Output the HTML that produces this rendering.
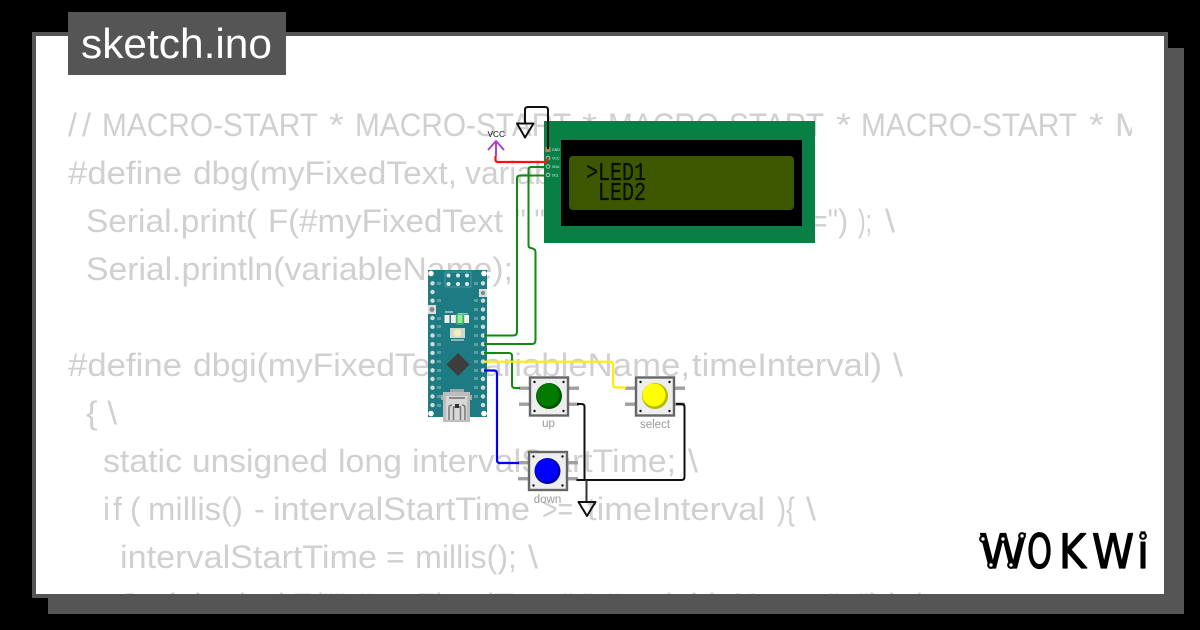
<!DOCTYPE html>
<html><head><meta charset="utf-8"><style>
html,body{margin:0;padding:0;background:#000;width:1200px;height:630px;overflow:hidden}
svg{display:block}
.c{font-family:"Liberation Sans",sans-serif;font-size:32px;fill:#d0d0d0}
.p{font-family:"Liberation Sans",sans-serif;font-size:3.6px;fill:#cfe}
.l{font-family:"Liberation Sans",sans-serif;font-size:11.5px;fill:#999;text-anchor:middle}
.lcd{font-family:"Liberation Mono",monospace;font-size:20px;fill:#0a0f00;stroke:#0a0f00;stroke-width:.25}
.w{font-family:"DejaVu Sans",sans-serif;font-size:47px;fill:#000;stroke:#000;stroke-width:1.3;stroke-linejoin:round}
</style></head><body>
<svg width="1200" height="630" viewBox="0 0 1200 630" xmlns="http://www.w3.org/2000/svg">
<defs>
<clipPath id="cl"><rect x="68" y="90" width="1064" height="504"/></clipPath>
<g id="btn">
 <g fill="#a0a0a0"><rect x="-30" y="-10" width="10" height="3.4"/><rect x="20" y="-10" width="10" height="3.4"/><rect x="-30" y="6" width="10" height="3.4"/><rect x="20" y="6" width="10" height="3.4"/></g>
 <rect x="-19" y="-19" width="38" height="38" fill="#eee" stroke="#666" stroke-width="2.4"/>
 <g fill="#111"><circle cx="-14.500" cy="-14.500" r="1.200"/><circle cx="14.500" cy="-14.500" r="1.200"/><circle cx="-14.500" cy="14.500" r="1.200"/><circle cx="14.500" cy="14.500" r="1.200"/></g>
</g>
</defs>
<rect width="1200" height="630" fill="#000"/>
<rect x="48" y="48" width="1136" height="566" fill="#555"/>
<rect x="34" y="34" width="1132" height="562" fill="#fff" stroke="#555" stroke-width="4"/>
<rect x="68" y="12" width="218" height="63" fill="#555"/>
<text x="81" y="58" font-family="Liberation Sans,sans-serif" font-size="42" fill="#fff" textLength="191" lengthAdjust="spacingAndGlyphs">sketch.ino</text>

<g class="c" clip-path="url(#cl)">
<g>
<text x="68" y="136">/</text>
<text x="82" y="136">/</text>
<text x="102" y="136" textLength="216" lengthAdjust="spacingAndGlyphs">MACRO-START</text>
<text x="329" y="136" textLength="15" lengthAdjust="spacingAndGlyphs">*</text>
<text x="355" y="136" textLength="216" lengthAdjust="spacingAndGlyphs">MACRO-START</text>
<text x="582" y="136" textLength="15" lengthAdjust="spacingAndGlyphs">*</text>
<text x="608" y="136" textLength="216" lengthAdjust="spacingAndGlyphs">MACRO-START</text>
<text x="836" y="136" textLength="15" lengthAdjust="spacingAndGlyphs">*</text>
<text x="861" y="136" textLength="216" lengthAdjust="spacingAndGlyphs">MACRO-START</text>
<text x="1089" y="136" textLength="15" lengthAdjust="spacingAndGlyphs">*</text>
<text x="1115" y="136" textLength="29" lengthAdjust="spacingAndGlyphs">M</text>
</g>
<text x="68" y="184" textLength="114" lengthAdjust="spacingAndGlyphs">#define</text>
<text x="193" y="184" textLength="264" lengthAdjust="spacingAndGlyphs">dbg(myFixedText,</text>
<text x="465" y="184" textLength="225" lengthAdjust="spacingAndGlyphs">variableName) \</text>
<text x="86" y="232" textLength="171" lengthAdjust="spacingAndGlyphs">Serial.print(</text>
<text x="268" y="232" textLength="235" lengthAdjust="spacingAndGlyphs">F(#myFixedText</text>
<text x="515" y="232" textLength="30" lengthAdjust="spacingAndGlyphs">" "</text>
<text x="600" y="232" textLength="248" lengthAdjust="spacingAndGlyphs">#variableName"=")</text>
<text x="858" y="232" textLength="14" lengthAdjust="spacingAndGlyphs">);</text>
<text x="885" y="232" textLength="10" lengthAdjust="spacingAndGlyphs">\</text>
<text x="86" y="280" textLength="427" lengthAdjust="spacingAndGlyphs">Serial.println(variableName);</text>
<text x="68" y="376" textLength="114" lengthAdjust="spacingAndGlyphs">#define</text>
<text x="193" y="376" textLength="273" lengthAdjust="spacingAndGlyphs">dbgi(myFixedText,</text>
<text x="466" y="376" textLength="224" lengthAdjust="spacingAndGlyphs">variableName,</text>
<text x="692" y="376" textLength="190" lengthAdjust="spacingAndGlyphs">timeInterval)</text>
<text x="893" y="376" textLength="10" lengthAdjust="spacingAndGlyphs">\</text>
<text x="86" y="424" textLength="31" lengthAdjust="spacingAndGlyphs">{ \</text>
<text x="103" y="472" textLength="79" lengthAdjust="spacingAndGlyphs">static</text>
<text x="192" y="472" textLength="136" lengthAdjust="spacingAndGlyphs">unsigned</text>
<text x="338" y="472" textLength="64" lengthAdjust="spacingAndGlyphs">long</text>
<text x="412" y="472" textLength="264" lengthAdjust="spacingAndGlyphs">intervalStartTime;</text>
<text x="688" y="472" textLength="10" lengthAdjust="spacingAndGlyphs">\</text>
<text x="103" y="520">i</text>
<text x="113" y="520">f</text>
<text x="130" y="520">(</text>
<text x="148" y="520" textLength="95" lengthAdjust="spacingAndGlyphs">millis()</text>
<text x="254" y="520">-</text>
<text x="273" y="520" textLength="257" lengthAdjust="spacingAndGlyphs">intervalStartTime</text>
<text x="542" y="520" textLength="31" lengthAdjust="spacingAndGlyphs">&gt;=</text>
<text x="587" y="520" textLength="178" lengthAdjust="spacingAndGlyphs">timeInterval</text>
<text x="777" y="520" textLength="18" lengthAdjust="spacingAndGlyphs">){</text>
<text x="806" y="520" textLength="10" lengthAdjust="spacingAndGlyphs">\</text>
<text x="120" y="568" textLength="257" lengthAdjust="spacingAndGlyphs">intervalStartTime</text>
<text x="386" y="568">=</text>
<text x="415" y="568" textLength="102" lengthAdjust="spacingAndGlyphs">millis();</text>
<text x="528" y="568" textLength="10" lengthAdjust="spacingAndGlyphs">\</text>
<text x="119" y="616" textLength="808" lengthAdjust="spacingAndGlyphs">Serial.print( F("" #myFixedText " " #variableName "=") ); \</text>
</g>

<!-- LCD -->
<rect x="544" y="121" width="271" height="122" fill="#087f45"/>
<rect x="561" y="140" width="241" height="86" fill="#000"/>
<rect x="569" y="156" width="225" height="54" rx="4" fill="#3d5700"/>
<g stroke="#466400" stroke-width=".6" opacity=".3">
<path d="M585 161V205M597 161V205M609 161V205M621 161V205M633 161V205M645 161V205M657 161V205M669 161V205M681 161V205M693 161V205M705 161V205M717 161V205M729 161V205M741 161V205M753 161V205M765 161V205M777 161V205"/>
</g>
<g class="lcd">
<text transform="translate(586 180) scale(1 1.28)">&gt;LED1</text>
<text transform="translate(598 200) scale(1 1.28)">LED2</text>
</g>
<rect x="545.500" y="147" width="5" height="5" fill="#b5885a"/>
<g fill="#087f45" stroke="#bbb" stroke-width="1"><circle cx="548" cy="158" r="1.800"/><circle cx="548" cy="166.500" r="1.800"/><circle cx="548" cy="175" r="1.800"/></g>
<g class="p"><text x="552" y="151">GND</text><text x="552" y="159.500">VCC</text><text x="552" y="168">SDA</text><text x="552" y="176.500">SCL</text></g>

<!-- Arduino -->
<rect x="428" y="270" width="59" height="147" fill="#1c7b83"/>
<g fill="#fff"><circle cx="431" cy="273.500" r="2.800"/><circle cx="484" cy="273.500" r="2.800"/><circle cx="431" cy="413.500" r="2.800"/><circle cx="484" cy="413.500" r="2.800"/></g>
<rect x="445" y="272" width="26" height="15" fill="none" stroke="#5aa3a8" stroke-width=".8"/>
<g fill="#dde8e8"><circle cx="448.500" cy="275.500" r="2"/><circle cx="458" cy="275.500" r="2"/><circle cx="467" cy="275.500" r="2"/><circle cx="448.500" cy="284" r="2"/><circle cx="458" cy="284" r="2"/><circle cx="467" cy="284" r="2"/></g>
<g fill="#cfdcdc">
<circle cx="432.500" cy="283.300" r="2.200"/><circle cx="432.500" cy="292" r="2.200"/><circle cx="432.500" cy="300.700" r="2.200"/><circle cx="432.500" cy="318.100" r="2.200"/><circle cx="432.500" cy="326.800" r="2.200"/><circle cx="432.500" cy="335.500" r="2.200"/><circle cx="432.500" cy="344.200" r="2.200"/><circle cx="432.500" cy="352.900" r="2.200"/><circle cx="432.500" cy="361.600" r="2.200"/><circle cx="432.500" cy="370.300" r="2.200"/><circle cx="432.500" cy="379" r="2.200"/><circle cx="432.500" cy="387.700" r="2.200"/><circle cx="432.500" cy="396.400" r="2.200"/><circle cx="432.500" cy="405.100" r="2.200"/>
<circle cx="483" cy="283.300" r="2.200"/><circle cx="483" cy="300.700" r="2.200"/><circle cx="483" cy="309.400" r="2.200"/><circle cx="483" cy="318.100" r="2.200"/><circle cx="483" cy="326.800" r="2.200"/><circle cx="483" cy="335.500" r="2.200"/><circle cx="483" cy="344.200" r="2.200"/><circle cx="483" cy="352.900" r="2.200"/><circle cx="483" cy="361.600" r="2.200"/><circle cx="483" cy="370.300" r="2.200"/><circle cx="483" cy="379" r="2.200"/><circle cx="483" cy="387.700" r="2.200"/><circle cx="483" cy="396.400" r="2.200"/><circle cx="483" cy="405.100" r="2.200"/>
</g>
<g fill="#8ebcbc" opacity=".55">
<rect x="437" y="282" width="4" height="3"/><rect x="437" y="299" width="4" height="3"/><rect x="437" y="317" width="4" height="3"/><rect x="437" y="325" width="4" height="3"/><rect x="437" y="334" width="4" height="3"/><rect x="437" y="343" width="4" height="3"/><rect x="437" y="351" width="4" height="3"/><rect x="437" y="360" width="4" height="3"/><rect x="437" y="369" width="4" height="3"/><rect x="437" y="377" width="4" height="3"/><rect x="437" y="386" width="4" height="3"/><rect x="437" y="395" width="4" height="3"/><rect x="437" y="404" width="4" height="3"/>
<rect x="474" y="282" width="4" height="3"/><rect x="474" y="299" width="4" height="3"/><rect x="474" y="308" width="4" height="3"/><rect x="474" y="317" width="4" height="3"/><rect x="474" y="325" width="4" height="3"/><rect x="474" y="334" width="4" height="3"/><rect x="474" y="343" width="4" height="3"/><rect x="474" y="351" width="4" height="3"/><rect x="474" y="360" width="4" height="3"/><rect x="474" y="369" width="4" height="3"/><rect x="474" y="377" width="4" height="3"/><rect x="474" y="386" width="4" height="3"/><rect x="474" y="395" width="4" height="3"/>
</g>
<rect x="428" y="305" width="8" height="9" fill="#ddd"/><circle cx="432" cy="309.500" r="2.400" fill="#888"/>
<rect x="479" y="289" width="8" height="8" fill="#ddd"/><circle cx="483" cy="293" r="2.200" fill="#888"/>
<g fill="#eee"><rect x="444.500" y="315" width="5" height="8"/><rect x="451" y="315" width="5" height="8"/><rect x="464" y="315" width="5" height="8"/></g>
<rect x="455.500" y="313" width="9" height="12" rx="3" fill="#5cd070" opacity=".5"/>
<rect x="457.500" y="315" width="5" height="8" fill="#8df08f"/>
<rect x="450" y="328" width="15" height="10" fill="#cfd8cf"/><circle cx="457.500" cy="333" r="3.800" fill="#f1eebb"/>
<g fill="#cfe8e8" opacity=".6"><rect x="445" y="311" width="8" height="2"/><rect x="458" y="313" width="10" height="1.500"/><rect x="451" y="339" width="13" height="2"/></g>
<path d="M458 353L469.500 364.500L458 376L446.500 364.500Z" fill="#3d3d3d"/>
<g fill="#9aa"><rect x="450" y="389" width="14" height="3"/></g>
<rect x="441" y="395" width="31" height="5" fill="#aaa"/>
<path d="M443 392H470V422H443Z" fill="#bdbdbd"/>
<rect x="446" y="396" width="21" height="24" fill="#d8d8d8"/>
<rect x="449" y="397" width="16" height="2" fill="#888"/>
<path d="M449 420V408Q449 405 452 405M453.500 420V407H460.500V420M465 420V408Q465 405 462 405" fill="none" stroke="#777" stroke-width="1.500"/>
<rect x="455" y="404" width="4" height="4" fill="#333"/>

<!-- Buttons -->
<use href="#btn" x="549" y="396.500"/>
<circle cx="549" cy="396" r="13" fill="#005400"/><circle cx="548" cy="395" r="11.500" fill="#007a00"/>
<use href="#btn" x="655" y="396.500"/>
<circle cx="655" cy="396" r="13" fill="#b8b800"/><circle cx="654" cy="395" r="11.500" fill="#ffff00"/>
<use href="#btn" x="548" y="471"/>
<circle cx="547.500" cy="471" r="13" fill="#0000a0"/><circle cx="546.500" cy="470" r="11.500" fill="#0000ff"/>
<text class="l" x="548.500" y="427">up</text>
<text class="l" x="655" y="428">select</text>
<text class="l" x="547.500" y="503">down</text>

<!-- Wires -->
<g fill="none" stroke-width="2" stroke-linejoin="round">
<path d="M548 149V110Q548 107 545 107H528Q525 107 525 110V124" stroke="#111"/>
<path d="M517 123.500H533.500L525 137.500Z" stroke="#111"/>
<path d="M496 156V141M488 150L496 141L504 150" stroke="#aa44cc"/>
<path d="M495.500 156V159.500Q495.500 162 498 162H545Q547.500 162 547.500 158" stroke="#ff1010" stroke-width="2.200"/>
<path d="M546 167H531Q528.500 167 528.500 170V245Q528.500 248 531 248Q535.500 249 535.500 252V340Q535.500 344 532 344H484" stroke="#118a11"/>
<path d="M546 175.500H520Q517 175.500 517 178.500V332Q517 335.500 513 335.500H484" stroke="#118a11"/>
<path d="M484 353H509Q512 353 512 356V385Q512 388 515 388H520" stroke="#118a11"/>
<path d="M484 361.700H610Q613 361.700 613 364.500V384.500Q613 387.500 616 387.500H626" stroke="#ffee00" stroke-width="2.200"/>
<path d="M484 370.500H494Q497 370.500 497 373.500V460Q497 463 500 463H519" stroke="#0000ff" stroke-width="2.200"/>
<path d="M577 404H581.500Q584.500 404 584.500 407V480" stroke="#111"/>
<path d="M576.500 480H681.500Q684.500 480 684.500 477V407Q684.500 404 681.500 404H676" stroke="#111"/>
<path d="M586.500 480V502" stroke="#333"/>
<path d="M578.500 502H595.500L587 516Z" stroke="#111"/>
</g>
<text x="487.500" y="137" font-family="Liberation Sans,sans-serif" font-size="8.300" fill="#111">VCC</text>

<!-- Wokwi logo -->
<g class="w">
<text x="979" y="568" textLength="48" lengthAdjust="spacingAndGlyphs">W</text>
<text x="1027" y="568" textLength="25" lengthAdjust="spacingAndGlyphs">O</text>
<text x="1059" y="568" textLength="27" lengthAdjust="spacingAndGlyphs">K</text>
<text x="1092" y="568" textLength="42" lengthAdjust="spacingAndGlyphs">W</text>
<text x="1137" y="568" textLength="12" lengthAdjust="spacingAndGlyphs">i</text>
</g>
<g fill="#fff" stroke="#000" stroke-width="2.200">
<circle cx="983" cy="539" r="2.800"/><circle cx="1003" cy="539" r="2.800"/><circle cx="1022" cy="536" r="2.800"/><circle cx="991" cy="565" r="2.800"/><circle cx="1011" cy="565" r="2.800"/><circle cx="1143" cy="536" r="2.800"/>
</g>
</svg>
</body></html>
